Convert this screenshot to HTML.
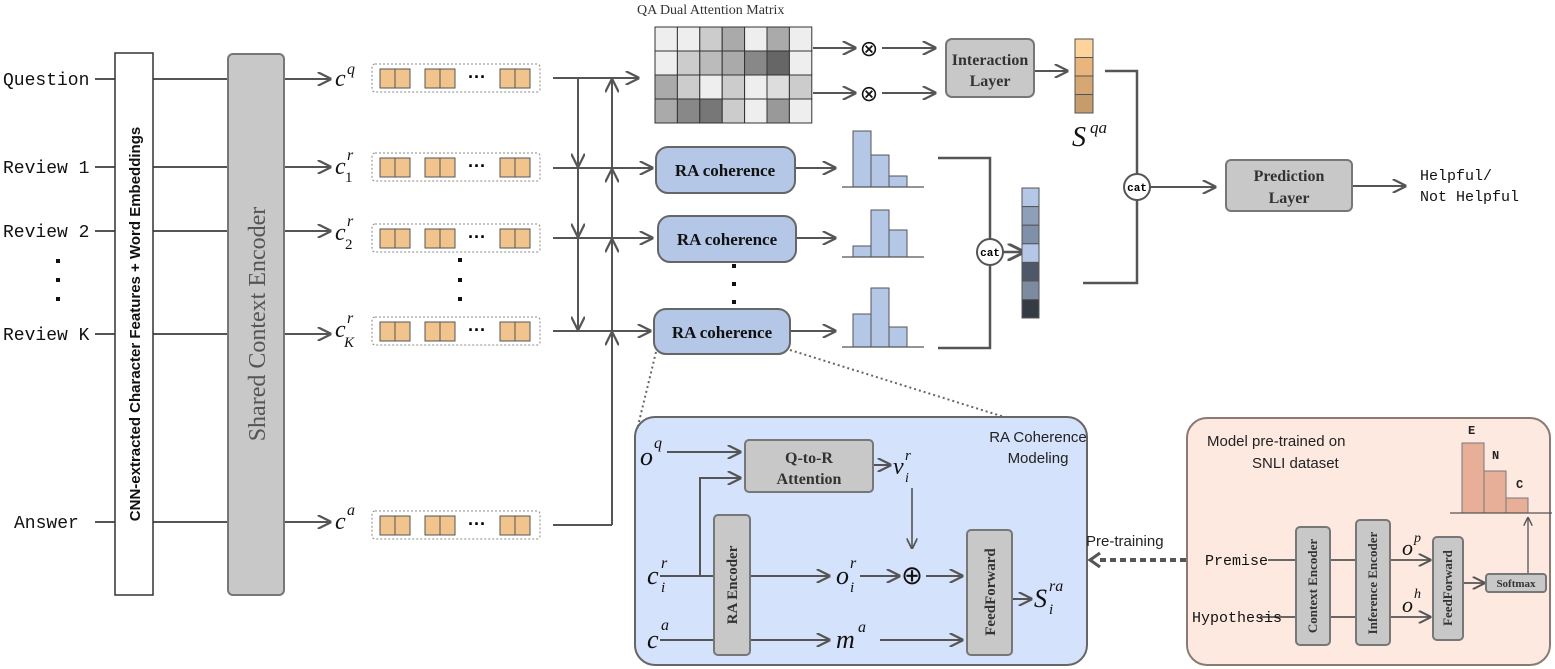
<!DOCTYPE html>
<html><head><meta charset="utf-8"><style>
html,body{margin:0;padding:0;background:#fff}
svg{display:block}
.m{font-family:"Liberation Mono",monospace}
.s{font-family:"Liberation Serif",serif}
.a{font-family:"Liberation Sans",sans-serif}
</style></head><body>
<svg width="1555" height="669" viewBox="0 0 1555 669" xmlns="http://www.w3.org/2000/svg">
<defs>
<marker id="ar" viewBox="0 0 10 10" refX="9" refY="5" markerWidth="7" markerHeight="7" orient="auto"><path d="M0,0 L10,5 L0,10" fill="none" stroke="#555" stroke-width="1.6"/></marker>
<g id="vec">
<rect x="0" y="0" width="168" height="28" rx="3" fill="none" stroke="#888" stroke-dasharray="2,2"/>
<rect x="8" y="5" width="30" height="19" fill="#f2c48d" stroke="#555"/><line x1="23" y1="5" x2="23" y2="24" stroke="#555"/>
<rect x="53" y="5" width="30" height="19" fill="#f2c48d" stroke="#555"/><line x1="68" y1="5" x2="68" y2="24" stroke="#555"/>
<text x="96" y="19" font-size="18" font-weight="bold" class="a">···</text>
<rect x="128" y="5" width="30" height="19" fill="#f2c48d" stroke="#555"/><line x1="143" y1="5" x2="143" y2="24" stroke="#555"/>
</g>
</defs>
<g stroke="#555" stroke-width="2" fill="none">
<line x1="95" y1="79" x2="115" y2="79"/><line x1="95" y1="167" x2="115" y2="167"/><line x1="95" y1="231" x2="115" y2="231"/><line x1="95" y1="334" x2="115" y2="334"/><line x1="95" y1="522" x2="115" y2="522"/>
<line x1="153" y1="79" x2="228" y2="79"/><line x1="153" y1="167" x2="228" y2="167"/><line x1="153" y1="231" x2="228" y2="231"/><line x1="153" y1="334" x2="228" y2="334"/><line x1="153" y1="522" x2="228" y2="522"/>
<line x1="284" y1="79" x2="330" y2="79" marker-end="url(#ar)"/><line x1="284" y1="167" x2="330" y2="167" marker-end="url(#ar)"/><line x1="284" y1="231" x2="330" y2="231" marker-end="url(#ar)"/><line x1="284" y1="334" x2="330" y2="334" marker-end="url(#ar)"/><line x1="284" y1="522" x2="330" y2="522" marker-end="url(#ar)"/>
<line x1="553" y1="78" x2="638" y2="78" marker-end="url(#ar)"/>
<line x1="553" y1="168" x2="652" y2="168" marker-end="url(#ar)"/>
<line x1="553" y1="238" x2="652" y2="238" marker-end="url(#ar)"/>
<line x1="553" y1="331" x2="650" y2="331" marker-end="url(#ar)"/>
<line x1="553" y1="525" x2="612" y2="525"/>
<line x1="578" y1="78" x2="578" y2="166" marker-end="url(#ar)"/>
<line x1="578" y1="168" x2="578" y2="236" marker-end="url(#ar)"/>
<line x1="578" y1="238" x2="578" y2="329" marker-end="url(#ar)"/>
<line x1="612" y1="525" x2="612" y2="333" marker-end="url(#ar)"/>
<line x1="612" y1="331" x2="612" y2="240" marker-end="url(#ar)"/>
<line x1="612" y1="238" x2="612" y2="170" marker-end="url(#ar)"/>
<line x1="612" y1="168" x2="612" y2="80" marker-end="url(#ar)"/>
<line x1="813" y1="48" x2="855" y2="48" marker-end="url(#ar)"/><line x1="882" y1="48" x2="935" y2="48" marker-end="url(#ar)"/>
<line x1="813" y1="93" x2="855" y2="93" marker-end="url(#ar)"/><line x1="882" y1="93" x2="935" y2="93" marker-end="url(#ar)"/>
<line x1="1034" y1="71" x2="1067" y2="71" marker-end="url(#ar)"/>
<line x1="793" y1="168" x2="835" y2="168" marker-end="url(#ar)"/>
<line x1="795" y1="238" x2="835" y2="238" marker-end="url(#ar)"/>
<line x1="791" y1="331" x2="835" y2="331" marker-end="url(#ar)"/>
<polyline points="938,158 990,158 990,348 938,348" stroke-width="2.5"/>
<line x1="1003" y1="252" x2="1023" y2="252" marker-end="url(#ar)" stroke-width="2.5"/>
<polyline points="1105,71 1137,71 1137,283 1083,283" stroke-width="2.5"/>
<line x1="1150" y1="187" x2="1215" y2="187" marker-end="url(#ar)"/>
<line x1="1352" y1="186" x2="1405" y2="186" marker-end="url(#ar)"/>
</g>
<g class="m" font-size="18" fill="#111">
<text x="3" y="85">Question</text><text x="3" y="173">Review 1</text><text x="3" y="237">Review 2</text><text x="3" y="340">Review K</text><text x="14" y="528">Answer</text>
</g>
<g fill="#111"><rect x="56" y="259" width="4" height="4"/><rect x="56" y="278" width="4" height="4"/><rect x="56" y="297" width="4" height="4"/></g>
<rect x="115" y="53" width="38" height="542" fill="#fff" stroke="#333" stroke-width="1.5"/>
<text transform="translate(140,324) rotate(-90)" text-anchor="middle" font-size="15" font-weight="bold" class="a" fill="#111">CNN-extracted Character Features + Word Embeddings</text>
<rect x="228" y="54" width="56" height="541" rx="5" fill="#c8c8c8" stroke="#777" stroke-width="2"/>
<text transform="translate(265,324) rotate(-90)" text-anchor="middle" font-size="24" class="s" fill="#555">Shared Context Encoder</text>
<g class="s" font-style="italic" fill="#111">
<text x="335" y="86" font-size="24">c</text><text x="347" y="74" font-size="16">q</text>
<text x="335" y="174" font-size="24">c</text><text x="347" y="160" font-size="16">r</text><text x="345" y="182" font-size="15" font-style="normal">1</text>
<text x="335" y="240" font-size="24">c</text><text x="347" y="226" font-size="16">r</text><text x="345" y="249" font-size="15" font-style="normal">2</text>
<text x="335" y="337" font-size="24">c</text><text x="347" y="323" font-size="16">r</text><text x="344" y="347" font-size="15">K</text>
<text x="335" y="529" font-size="24">c</text><text x="347" y="515" font-size="16">a</text>
</g>
<use href="#vec" x="372" y="64"/><use href="#vec" x="372" y="153"/><use href="#vec" x="372" y="224"/><use href="#vec" x="372" y="317"/><use href="#vec" x="372" y="511"/>
<g fill="#111"><rect x="458" y="258" width="4" height="4"/><rect x="458" y="278" width="4" height="4"/><rect x="458" y="297" width="4" height="4"/>
<rect x="732" y="264" width="4" height="4"/><rect x="732" y="282" width="4" height="4"/><rect x="732" y="300" width="4" height="4"/></g>
<text x="637" y="14" font-size="14" class="s" fill="#333">QA Dual Attention Matrix</text>
<g stroke="#333" stroke-width="1">
<rect x="655" y="27" width="22.4" height="24" fill="#eee"/><rect x="677.4" y="27" width="22.4" height="24" fill="#eee"/><rect x="699.8" y="27" width="22.4" height="24" fill="#ccc"/><rect x="722.2" y="27" width="22.4" height="24" fill="#aaa"/><rect x="744.6" y="27" width="22.4" height="24" fill="#eee"/><rect x="767" y="27" width="22.4" height="24" fill="#aaa"/><rect x="789.4" y="27" width="22.4" height="24" fill="#eee"/>
<rect x="655" y="51" width="22.4" height="24" fill="#eee"/><rect x="677.4" y="51" width="22.4" height="24" fill="#ccc"/><rect x="699.8" y="51" width="22.4" height="24" fill="#bbb"/><rect x="722.2" y="51" width="22.4" height="24" fill="#aaa"/><rect x="744.6" y="51" width="22.4" height="24" fill="#888"/><rect x="767" y="51" width="22.4" height="24" fill="#666"/><rect x="789.4" y="51" width="22.4" height="24" fill="#eee"/>
<rect x="655" y="75" width="22.4" height="24" fill="#aaa"/><rect x="677.4" y="75" width="22.4" height="24" fill="#ccc"/><rect x="699.8" y="75" width="22.4" height="24" fill="#eee"/><rect x="722.2" y="75" width="22.4" height="24" fill="#ccc"/><rect x="744.6" y="75" width="22.4" height="24" fill="#eee"/><rect x="767" y="75" width="22.4" height="24" fill="#ddd"/><rect x="789.4" y="75" width="22.4" height="24" fill="#ccc"/>
<rect x="655" y="99" width="22.4" height="24" fill="#aaa"/><rect x="677.4" y="99" width="22.4" height="24" fill="#888"/><rect x="699.8" y="99" width="22.4" height="24" fill="#777"/><rect x="722.2" y="99" width="22.4" height="24" fill="#ccc"/><rect x="744.6" y="99" width="22.4" height="24" fill="#eee"/><rect x="767" y="99" width="22.4" height="24" fill="#999"/><rect x="789.4" y="99" width="22.4" height="24" fill="#eee"/>
</g>
<g font-size="22" class="s" fill="#111" text-anchor="middle"><text x="869" y="56">⊗</text><text x="869" y="101">⊗</text></g>
<rect x="946" y="39" width="88" height="58" rx="6" fill="#c8c8c8" stroke="#777" stroke-width="2"/>
<text x="990" y="65" text-anchor="middle" font-size="16" font-weight="bold" class="s" fill="#333">Interaction</text>
<text x="990" y="86" text-anchor="middle" font-size="16" font-weight="bold" class="s" fill="#333">Layer</text>
<g stroke="#555"><rect x="1075" y="39" width="18" height="18.5" fill="#fdd49b"/><rect x="1075" y="57.5" width="18" height="18.5" fill="#e8b57c"/><rect x="1075" y="76" width="18" height="18.5" fill="#d6a673"/><rect x="1075" y="94.5" width="18" height="18.5" fill="#c69c6d"/></g>
<text x="1072" y="146" font-size="28" class="s" font-style="italic" fill="#111">S</text><text x="1090" y="133" font-size="17" class="s" font-style="italic" fill="#111">qa</text>
<g fill="#b4c7e7" stroke="#666" stroke-width="2">
<rect x="656" y="147" width="139" height="46" rx="12"/><rect x="658" y="216" width="138" height="46" rx="12"/><rect x="654" y="309" width="136" height="45" rx="12"/>
</g>
<g font-size="17" font-weight="bold" class="s" fill="#111" text-anchor="middle"><text x="725" y="176">RA coherence</text><text x="727" y="245">RA coherence</text><text x="722" y="338">RA coherence</text></g>
<g fill="#b4c7e7" stroke="#555" stroke-width="1">
<rect x="853" y="131" width="18" height="56"/><rect x="871" y="155" width="18" height="32"/><rect x="889" y="176" width="18" height="11"/>
<rect x="853" y="246" width="18" height="11"/><rect x="871" y="210" width="18" height="47"/><rect x="889" y="230" width="18" height="27"/>
<rect x="853" y="314" width="18" height="33"/><rect x="871" y="288" width="18" height="59"/><rect x="889" y="327" width="18" height="20"/>
</g>
<g stroke="#555" stroke-width="1.2"><line x1="842" y1="187" x2="924" y2="187"/><line x1="842" y1="257" x2="924" y2="257"/><line x1="842" y1="347" x2="924" y2="347"/></g>
<circle cx="990" cy="252" r="13" fill="#fff" stroke="#555" stroke-width="2"/><text x="990" y="256" text-anchor="middle" font-size="11" font-weight="bold" class="m">cat</text>
<g stroke="#555"><rect x="1022" y="188" width="17" height="18.6" fill="#b4c7e7"/><rect x="1022" y="206.6" width="17" height="18.6" fill="#8e9fb8"/><rect x="1022" y="225.2" width="17" height="18.6" fill="#8090a8"/><rect x="1022" y="243.8" width="17" height="18.6" fill="#b4c7e7"/><rect x="1022" y="262.4" width="17" height="18.6" fill="#4f5868"/><rect x="1022" y="281" width="17" height="18.6" fill="#7d8ba0"/><rect x="1022" y="299.6" width="17" height="18.4" fill="#353b45"/></g>
<circle cx="1137" cy="187" r="13" fill="#fff" stroke="#555" stroke-width="2"/><text x="1137" y="191" text-anchor="middle" font-size="11" font-weight="bold" class="m">cat</text>
<rect x="1226" y="160" width="126" height="51" rx="5" fill="#c8c8c8" stroke="#777" stroke-width="2"/>
<text x="1289" y="181" text-anchor="middle" font-size="16" font-weight="bold" class="s" fill="#333">Prediction</text>
<text x="1289" y="203" text-anchor="middle" font-size="16" font-weight="bold" class="s" fill="#333">Layer</text>
<text x="1420" y="180" font-size="15" class="m" fill="#111">Helpful/</text><text x="1420" y="201" font-size="15" class="m" fill="#111">Not Helpful</text>
<g stroke="#666" stroke-width="2" stroke-dasharray="2,3"><line x1="656" y1="352" x2="637" y2="430"/><line x1="790" y1="350" x2="1030" y2="425"/></g>
<rect x="635" y="417" width="452" height="248" rx="20" fill="#d5e2fb" stroke="#666" stroke-width="2"/>
<text x="1038" y="442" text-anchor="middle" font-size="15" class="a" fill="#222">RA Coherence</text>
<text x="1038" y="463" text-anchor="middle" font-size="15" class="a" fill="#222">Modeling</text>
<g stroke="#555" stroke-width="2" fill="none">
<line x1="667" y1="452" x2="740" y2="452" marker-end="url(#ar)"/>
<line x1="873" y1="465" x2="890" y2="465" marker-end="url(#ar)"/>
<line x1="912" y1="488" x2="912" y2="548" marker-end="url(#ar)" stroke-width="1.6"/>
<line x1="660" y1="576" x2="714" y2="576"/>
<polyline points="700,576 700,478 740,478" marker-end="url(#ar)"/>
<line x1="750" y1="576" x2="829" y2="576" marker-end="url(#ar)"/>
<line x1="860" y1="576" x2="899" y2="576" marker-end="url(#ar)"/>
<line x1="926" y1="576" x2="962" y2="576" marker-end="url(#ar)"/>
<line x1="660" y1="640" x2="714" y2="640"/>
<line x1="750" y1="640" x2="829" y2="640" marker-end="url(#ar)"/>
<line x1="880" y1="640" x2="962" y2="640" marker-end="url(#ar)"/>
<line x1="1012" y1="599" x2="1031" y2="599" marker-end="url(#ar)"/>
</g>
<rect x="745" y="440" width="128" height="52" rx="4" fill="#c8c8c8" stroke="#777" stroke-width="2"/>
<text x="809" y="463" text-anchor="middle" font-size="16" font-weight="bold" class="s" fill="#333">Q-to-R</text>
<text x="809" y="484" text-anchor="middle" font-size="16" font-weight="bold" class="s" fill="#333">Attention</text>
<rect x="714" y="515" width="36" height="140" rx="4" fill="#c8c8c8" stroke="#777" stroke-width="2"/>
<text transform="translate(737,585) rotate(-90)" text-anchor="middle" font-size="15" font-weight="bold" class="s" fill="#333">RA Encoder</text>
<rect x="967" y="530" width="45" height="125" rx="4" fill="#c8c8c8" stroke="#777" stroke-width="2"/>
<text transform="translate(995,592) rotate(-90)" text-anchor="middle" font-size="15" font-weight="bold" class="s" fill="#333">FeedForward</text>
<g class="s" font-style="italic" fill="#111">
<text x="640" y="465" font-size="26">o</text><text x="654" y="448" font-size="16">q</text>
<text x="893" y="474" font-size="24">v</text><text x="905" y="460" font-size="15">r</text><text x="905" y="482" font-size="14">i</text>
<text x="647" y="584" font-size="26">c</text><text x="661" y="568" font-size="16">r</text><text x="661" y="592" font-size="15">i</text>
<text x="836" y="584" font-size="26">o</text><text x="850" y="568" font-size="16">r</text><text x="850" y="592" font-size="15">i</text>
<text x="647" y="648" font-size="26">c</text><text x="661" y="630" font-size="16">a</text>
<text x="836" y="648" font-size="26">m</text><text x="858" y="632" font-size="16">a</text>
<text x="1034" y="607" font-size="26">S</text><text x="1049" y="591" font-size="16">ra</text><text x="1049" y="614" font-size="15">i</text>
</g>
<text x="912" y="584" text-anchor="middle" font-size="26" class="s" fill="#111">⊕</text>
<text x="1086" y="546" font-size="15" class="a" fill="#222">Pre-training</text>
<line x1="1186" y1="560" x2="1098" y2="560" stroke="#555" stroke-width="4" stroke-dasharray="6,4"/>
<path d="M1100,553 L1090,560 L1100,567" fill="none" stroke="#555" stroke-width="3"/>
<rect x="1187" y="418" width="363" height="247" rx="20" fill="#fde9e0" stroke="#8a7a72" stroke-width="2"/>
<text x="1207" y="446" font-size="15" class="a" fill="#222">Model pre-trained on</text>
<text x="1252" y="468" font-size="15" class="a" fill="#222">SNLI dataset</text>
<g fill="#e8af98" stroke="#777"><rect x="1462" y="443" width="22" height="70"/><rect x="1484" y="471" width="22" height="42"/><rect x="1506" y="498" width="22" height="15"/></g>
<line x1="1450" y1="513" x2="1552" y2="513" stroke="#555" stroke-width="1.2"/>
<g font-size="12" font-weight="bold" class="m" fill="#222"><text x="1468" y="434">E</text><text x="1492" y="459">N</text><text x="1516" y="488">C</text></g>
<g stroke="#555" stroke-width="1.8" fill="none">
<line x1="1268" y1="560" x2="1296" y2="560"/><line x1="1330" y1="560" x2="1355" y2="560"/><line x1="1390" y1="560" x2="1430" y2="560" marker-end="url(#ar)"/>
<line x1="1260" y1="617" x2="1296" y2="617"/><line x1="1330" y1="617" x2="1355" y2="617"/><line x1="1390" y1="617" x2="1430" y2="617" marker-end="url(#ar)"/>
<line x1="1463" y1="583" x2="1484" y2="583" marker-end="url(#ar)"/>
<line x1="1528" y1="574" x2="1528" y2="518" marker-end="url(#ar)" stroke-width="1.3"/>
</g>
<g class="m" font-size="15" fill="#111"><text x="1205" y="565">Premise</text><text x="1192" y="622">Hypothesis</text></g>
<g fill="#c8c8c8" stroke="#777" stroke-width="2">
<rect x="1296" y="527" width="34" height="118" rx="4"/><rect x="1356" y="520" width="34" height="125" rx="4"/><rect x="1433" y="537" width="30" height="103" rx="4"/><rect x="1486" y="574" width="60" height="18" rx="3"/>
</g>
<g font-size="13" font-weight="bold" class="s" fill="#333" text-anchor="middle">
<text transform="translate(1317,586) rotate(-90)">Context Encoder</text>
<text transform="translate(1377,583) rotate(-90)">Inference Encoder</text>
<text transform="translate(1452,588) rotate(-90)">FeedForward</text>
</g>
<text x="1516" y="587" text-anchor="middle" font-size="11" font-weight="bold" class="s" fill="#333">Softmax</text>
<g class="s" font-style="italic" fill="#111"><text x="1402" y="555" font-size="22">o</text><text x="1414" y="542" font-size="14">p</text><text x="1402" y="612" font-size="22">o</text><text x="1414" y="598" font-size="14">h</text></g>
</svg>
</body></html>
